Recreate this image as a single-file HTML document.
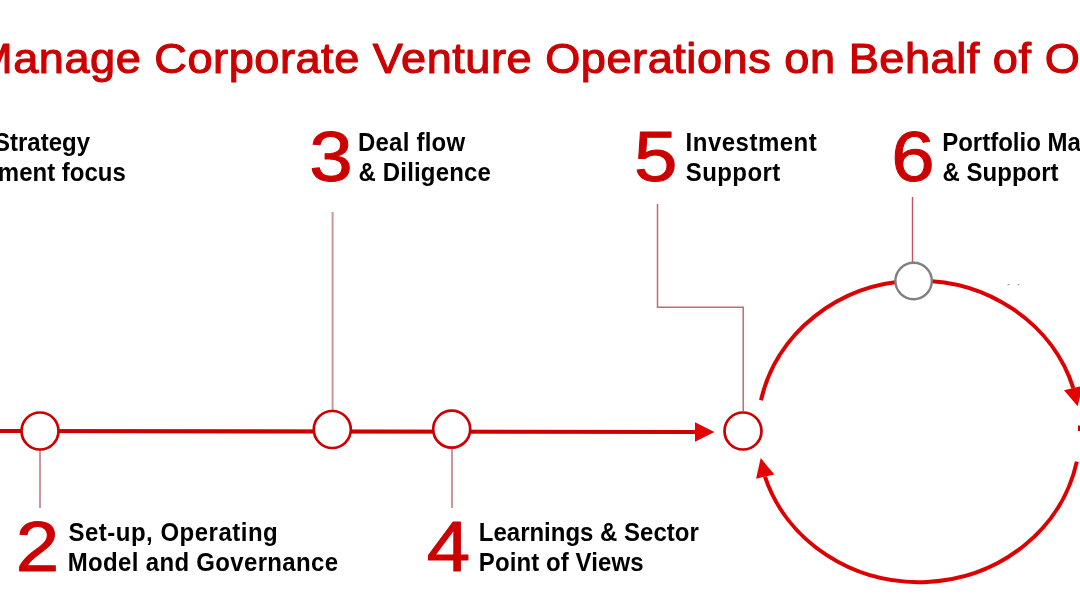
<!DOCTYPE html>
<html><head><meta charset="utf-8">
<style>
html,body{margin:0;padding:0;background:#fff;width:1080px;height:612px;overflow:hidden}
svg{display:block;will-change:transform}
.t{font-family:"Liberation Sans",sans-serif;fill:#CC0000;stroke:#CC0000;stroke-width:1.1px;stroke-linejoin:round;font-size:43px;letter-spacing:0.5px}
.b{font-family:"Liberation Sans",sans-serif;fill:#000;font-weight:bold;font-size:24px}
.n{font-family:"Liberation Sans",sans-serif;fill:#CC0000;stroke:#CC0000;stroke-width:1.0px;stroke-linejoin:round;font-size:71px}
</style></head><body>
<svg width="1080" height="612" viewBox="0 0 1080 612">
<!-- title -->
<text class="t" transform="translate(-25,72.9) scale(1.05,1)">Manage Corporate Venture Operations on Behalf of O</text>

<!-- top labels -->
<text class="b" text-anchor="end" transform="translate(90,151) scale(1,1.05)">Strategy</text>
<text class="b" text-anchor="end" transform="translate(125.8,181) scale(1,1.05)">Investment focus</text>

<text class="n" transform="translate(309.3,180.5) scale(1.1,1)">3</text>
<text class="b" letter-spacing="0.22" transform="translate(358,151) scale(1,1.05)">Deal flow</text>
<text class="b" letter-spacing="0.17" transform="translate(358.5,181) scale(1,1.05)">&amp; Diligence</text>

<text class="n" transform="translate(634,180.5) scale(1.1,1)">5</text>
<text class="b" letter-spacing="0.5" transform="translate(685.6,151) scale(1,1.05)">Investment</text>
<text class="b" letter-spacing="0.43" transform="translate(685.7,181) scale(1,1.05)">Support</text>

<text class="n" transform="translate(891.3,180.5) scale(1.1,1)">6</text>
<text class="b" transform="translate(942.2,151) scale(1,1.05)">Portfolio Management</text>
<text class="b" transform="translate(942.6,181) scale(1,1.05)">&amp; Support</text>

<!-- bottom labels -->
<text class="n" transform="translate(15.8,570.7) scale(1.1,1)">2</text>
<text class="b" letter-spacing="0.5" transform="translate(68.5,540.5) scale(1,1.05)">Set-up, Operating</text>
<text class="b" letter-spacing="0.33" transform="translate(67.8,571) scale(1,1.05)">Model and Governance</text>

<text class="n" transform="translate(426.8,570.7) scale(1.1,1)">4</text>
<text class="b" transform="translate(478.8,540.5) scale(1,1.05)">Learnings &amp; Sector</text>
<text class="b" letter-spacing="0.1" transform="translate(478.8,571) scale(1,1.05)">Point of Views</text>

<!-- thin connectors -->
<g stroke="#D0949B" stroke-width="2" fill="none">
  <line x1="40" y1="450" x2="40" y2="508"/>
  <line x1="332.6" y1="212" x2="332.6" y2="410"/>
  <line x1="452" y1="449" x2="452" y2="508"/>
</g>
<polyline points="657.5,204 657.5,307.2 743.2,307.2 743.2,411" stroke="#C56872" stroke-width="1.5" fill="none"/>
<line x1="912.5" y1="197" x2="912.5" y2="262" stroke="#C25562" stroke-width="1.4"/>

<!-- main line -->
<line x1="0" y1="431" x2="697" y2="432" stroke="#CC0000" stroke-width="4.1"/>
<polygon points="695,422.2 714.4,432 695,441.7" fill="#E60000"/>

<!-- loop arcs: ellipse center (918,432) rx 160 ry 151 -->
<path d="M760.97,400.31 A161.3,150.75 0 0 1 1073.32,388.17" stroke="#DD0000" stroke-width="4" fill="none"/>
<polygon points="1064,390.3 1077.7,406.3 1082.3,386" fill="#E60000"/>
<path d="M1076.82,461.66 A161.3,150.75 0 0 1 764.94,476.64" stroke="#DD0000" stroke-width="4" fill="none"/>
<polygon points="760.7,458.1 756.1,478.7 774.4,474.4" fill="#E60000"/>
<rect x="1078" y="425.5" width="2" height="5.5" fill="#CC0000"/>
<rect x="1007.5" y="284" width="2" height="1.2" fill="#A0A0A0"/>
<rect x="1017.8" y="284" width="1.5" height="1.2" fill="#909090"/>

<!-- nodes -->
<g fill="#fff" stroke="#CC0000" stroke-width="2.7">
  <circle cx="40" cy="431" r="18.5"/>
  <circle cx="332.3" cy="429.5" r="18.5"/>
  <circle cx="451.7" cy="429.2" r="18.5"/>
  <circle cx="743" cy="431" r="18.5"/>
</g>
<circle cx="913.6" cy="281" r="18.2" fill="#fff" stroke="#808080" stroke-width="2.4"/>
</svg>
</body></html>
